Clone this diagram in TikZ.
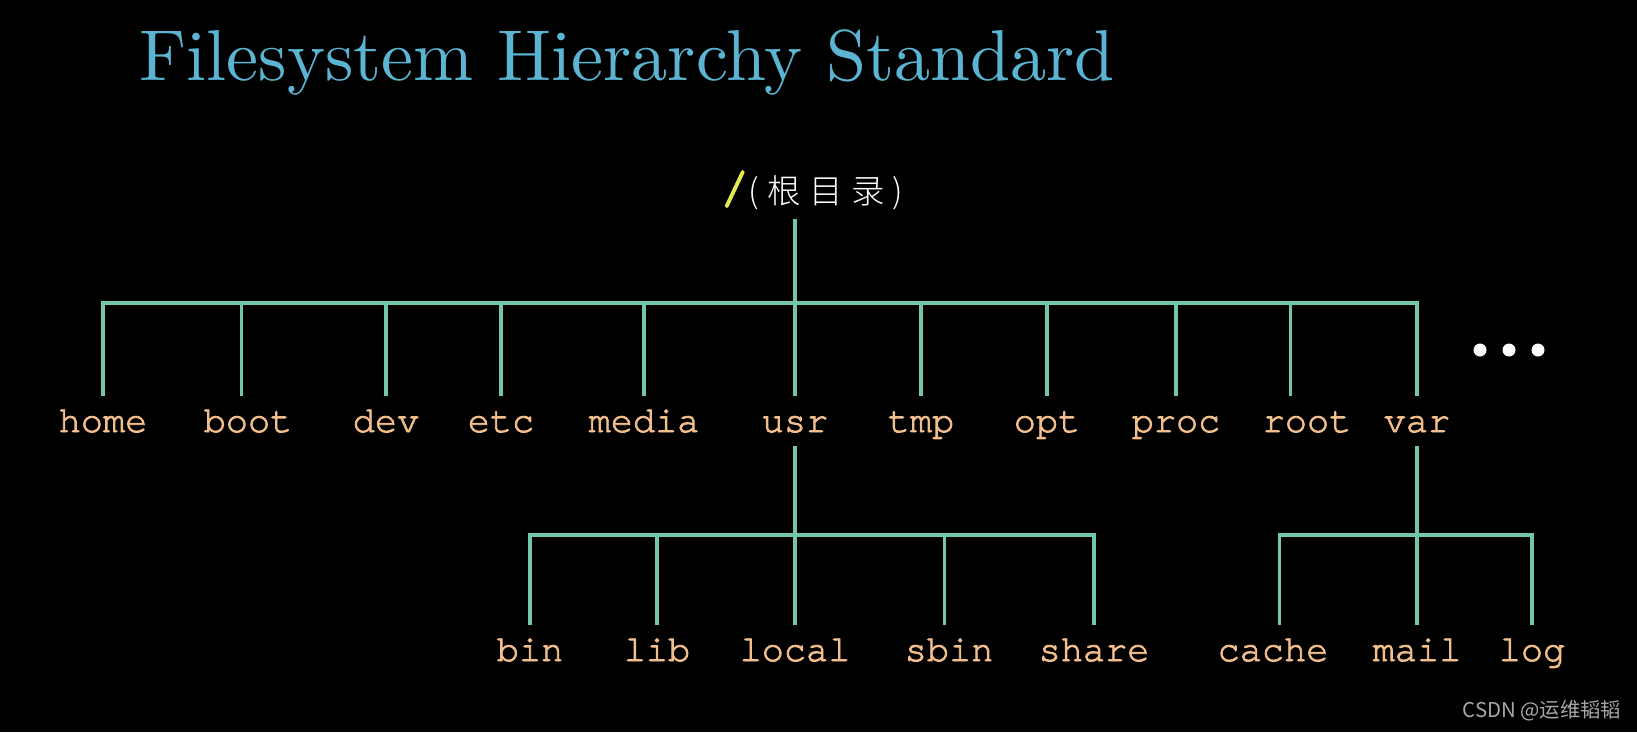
\documentclass[tikz,border=0pt]{standalone}
\usepackage{fontspec}
\usepackage{tikz}
\usetikzlibrary{positioning}
\usepackage{xcolor}
\newfontfamily\courierface[Extension=.otf,FakeBold=2.2]{texgyrecursor-regular}
\newfontfamily\slashface[Extension=.otf,FakeBold=4]{texgyrecursor-regular}
\newfontfamily\titleface[Extension=.otf]{lmroman10-regular}
\newfontfamily\cjk[LetterSpace=25,UprightFont={* Light}]{Noto Sans CJK SC}
\newfontfamily\cjkmark{Noto Sans CJK SC}
\definecolor{titleblue}{HTML}{5BB5D2}
\definecolor{dirpeach}{HTML}{F2BE8C}
\definecolor{treeteal}{HTML}{72C6AA}
\definecolor{slashyellow}{HTML}{E6E84E}
\definecolor{markgray}{HTML}{A8A8A8}

\begin{document}
\begin{tikzpicture}[
  dir/.style={font=\fontsize{10.5}{12}\courierface, text=dirpeach, anchor=base,
    text height=0.7em, text depth=0.08em, inner sep=0.3em},
  link/.style={draw=treeteal, line width=0.9pt},
  more/.style={circle, fill=white, minimum size=1.3mm, inner sep=0pt}
]

% Background
\fill[black] (0,0) rectangle (16.37,-7.32);
\useasboundingbox (0,0) rectangle (16.37,-7.32);

% Title
\node[anchor=base west, inner sep=0pt, text=titleblue, font=\fontsize{20.5}{24}\titleface] (title) at (1.39,-0.80) {Filesystem Hierarchy Standard};

% Root
\node[anchor=base, inner sep=0.25em] (root) at (8.12,-2.03)
  {{\fontsize{13.5}{14}\slashface\color{slashyellow}/}\color{white}\fontsize{9.5}{12}\cjk(根目录)};

% First level
\node[dir] (home) at (1.03,-4.32) {home};
\node[dir] (boot) at (2.48,-4.32) {boot};
\node[dir] (dev) at (3.86,-4.32) {dev};
\node[dir] (etc) at (5.01,-4.32) {etc};
\node[dir] (media) at (6.44,-4.32) {media};
\node[dir] (usr) at (7.95,-4.32) {usr};
\node[dir] (tmp) at (9.21,-4.32) {tmp};
\node[dir] (opt) at (10.47,-4.32) {opt};
\node[dir] (proc) at (11.76,-4.32) {proc};
\node[dir] (rootdir) at (13.07,-4.32) {root};
\node[dir] (var) at (14.17,-4.32) {var};

% More directories
\node[more] (more1) at (14.80,-3.50) {};
\node[more] (more2) at (15.09,-3.50) {};
\node[more] (more3) at (15.38,-3.50) {};

% Second level under usr
\node[dir] (bin) at (5.30,-6.61) {bin};
\node[dir] (lib) at (6.57,-6.61) {lib};
\node[dir] (local) at (7.95,-6.61) {local};
\node[dir] (sbin) at (9.49,-6.61) {sbin};
\node[dir] (share) at (10.94,-6.61) {share};

% Second level under var
\node[dir] (cache) at (12.73,-6.61) {cache};
\node[dir] (mail) at (14.17,-6.61) {mail};
\node[dir] (log) at (15.32,-6.61) {log};

% Branch points
\coordinate (rootfork) at (7.95,-3.03);
\coordinate (usrfork) at (7.95,-5.35);
\coordinate (varfork) at (14.17,-5.35);

% Root branches
\draw[link] (root.south -| rootfork) -- (rootfork);
\foreach \d/\s in {home/0,boot/-0.63,dev/0,etc/0,media/0,usr/0,tmp/0,opt/0,proc/0,rootdir/-1.67,var/0}
  \draw[link] (rootfork) -| ([xshift=\s mm]\d.north);

% usr branches
\draw[link] (usr.south) -- (usrfork);
\foreach \d/\s in {bin/0,lib/0,local/0,sbin/-0.42,share/0}
  \draw[link] (usrfork) -| ([xshift=\s mm]\d.north);

% var branches
\draw[link] (var.south) -- (varfork);
\foreach \d/\s in {cache/0.63,mail/0,log/0}
  \draw[link] (varfork) -| ([xshift=\s mm]\d.north);

% Watermark
\node[anchor=base east, inner sep=0pt, text=markgray, font=\fontsize{5.8}{7}\cjkmark] (mark) at (16.22,-7.17) {CSDN @运维韬韬};

\end{tikzpicture}
\end{document}
